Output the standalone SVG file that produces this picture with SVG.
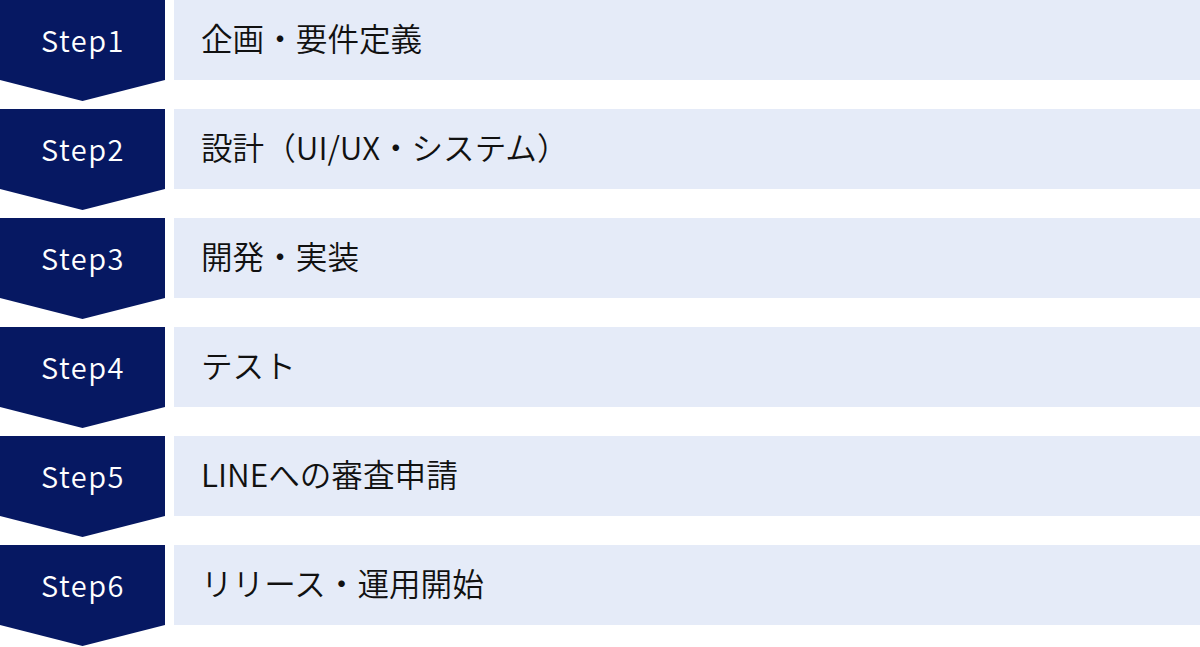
<svg xmlns="http://www.w3.org/2000/svg" width="1200" height="647" viewBox="0 0 1200 647">
<style>
.chev{fill:#061862;}
.box{fill:#E5EBF8;}
.st{font-family:"Noto Sans CJK JP","Noto Sans",sans-serif;font-size:29px;font-weight:350;fill:#FFFFFF;text-anchor:middle;letter-spacing:1.5px;}
.lb{font-family:"Noto Sans CJK JP",sans-serif;font-size:31.6px;font-weight:350;fill:#111111;}
</style>
<defs>
<polygon id="chevron" points="0,0 165,0 165,80 82.5,101 0,80"/>
</defs>
<rect width="1200" height="647" fill="#FFFFFF"/>
<g id="connectors"></g>
<g id="step1">
<use href="#chevron" class="chev" transform="translate(0,0)"/>
<rect class="box" x="174" y="0" width="1026" height="80"/>
<text class="st" x="83" y="52">Step1</text>
<text class="lb" x="201" y="51">企画・要件定義</text>
</g>
<g id="step2">
<use href="#chevron" class="chev" transform="translate(0,109)"/>
<rect class="box" x="174" y="109" width="1026" height="80"/>
<text class="st" x="83" y="161">Step2</text>
<text class="lb" x="201" y="160">設計（UI/UX・システム）</text>
</g>
<g id="step3">
<use href="#chevron" class="chev" transform="translate(0,218)"/>
<rect class="box" x="174" y="218" width="1026" height="80"/>
<text class="st" x="83" y="270">Step3</text>
<text class="lb" x="201" y="269">開発・実装</text>
</g>
<g id="step4">
<use href="#chevron" class="chev" transform="translate(0,327)"/>
<rect class="box" x="174" y="327" width="1026" height="80"/>
<text class="st" x="83" y="379">Step4</text>
<text class="lb" x="201" y="378">テスト</text>
</g>
<g id="step5">
<use href="#chevron" class="chev" transform="translate(0,436)"/>
<rect class="box" x="174" y="436" width="1026" height="80"/>
<text class="st" x="83" y="488">Step5</text>
<text class="lb" x="201" y="487">LINEへの審査申請</text>
</g>
<g id="step6">
<use href="#chevron" class="chev" transform="translate(0,545)"/>
<rect class="box" x="174" y="545" width="1026" height="80"/>
<text class="st" x="83" y="597">Step6</text>
<text class="lb" x="201" y="596">リリース・運用開始</text>
</g>
</svg>
